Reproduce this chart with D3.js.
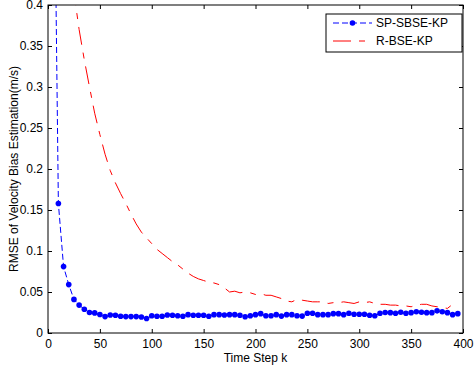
<!DOCTYPE html>
<html>
<head>
<meta charset="utf-8">
<script src="https://cdn.jsdelivr.net/npm/d3@7"></script>
<style>
  body { margin: 0; background: #fff; }
  svg { display: block; font-family: "Liberation Sans", Arial, sans-serif; }
</style>
</head>
<body>
<svg id="chart" width="474" height="366"></svg>
<script>
// time steps (every 5th step is plotted)
var steps = [5, 10, 15, 20, 25, 30, 35, 40, 45, 50, 55, 60, 65, 70, 75, 80, 85, 90, 95, 100,
  105, 110, 115, 120, 125, 130, 135, 140, 145, 150, 155, 160, 165, 170, 175, 180, 185, 190, 195, 200,
  205, 210, 215, 220, 225, 230, 235, 240, 245, 250, 255, 260, 265, 270, 275, 280, 285, 290, 295, 300,
  305, 310, 315, 320, 325, 330, 335, 340, 345, 350, 355, 360, 365, 370, 375, 380, 385, 390, 395];

// SP-SBSE-KP
var spsbse = [0.70, 0.158, 0.081, 0.059, 0.041, 0.034, 0.029, 0.025, 0.0245, 0.0225,
  0.020, 0.022, 0.0216, 0.0204, 0.020, 0.020, 0.020, 0.0196, 0.0176, 0.021,
  0.0204, 0.0204, 0.022, 0.0216, 0.021, 0.0204, 0.0224, 0.0216, 0.0216, 0.0216,
  0.0204, 0.0224, 0.0224, 0.022, 0.0224, 0.0224, 0.0216, 0.0198, 0.021, 0.0224,
  0.0236, 0.021, 0.021, 0.0224, 0.0206, 0.0224, 0.0224, 0.021, 0.0206, 0.024,
  0.024, 0.0224, 0.0224, 0.0224, 0.0236, 0.0236, 0.0224, 0.024, 0.0228, 0.0228,
  0.0228, 0.0216, 0.021, 0.024, 0.025, 0.0248, 0.024, 0.0253, 0.024, 0.0248,
  0.026, 0.0253, 0.0248, 0.0248, 0.0270, 0.026, 0.0248, 0.0224, 0.0236];

// R-BSE-KP (null = not plotted)
var rbse = [null, null, null, 0.47, 0.415, 0.37, 0.333, 0.300, 0.268, 0.242,
  0.218, 0.198, 0.183, 0.170, 0.158, 0.145, 0.133, 0.123, 0.116, 0.109,
  0.102, 0.097, 0.092, 0.087, 0.083, 0.078, 0.073, 0.069, 0.066, 0.064,
  0.062, 0.061, 0.059, 0.055, 0.050, 0.051, 0.049, 0.050, 0.049, 0.047,
  0.048, 0.046, 0.046, 0.044, 0.042, 0.039, 0.038, 0.041, 0.040, 0.039,
  0.038, 0.038, 0.038, 0.036, 0.037, 0.037, 0.038, 0.037, 0.036, 0.038,
  0.037, 0.038, 0.036, 0.035, 0.035, 0.034, 0.034, 0.033, 0.033, 0.032,
  0.034, 0.035, 0.035, 0.033, 0.032, 0.031, 0.030, 0.035, 0.034];

var xTicks = [0, 50, 100, 150, 200, 250, 300, 350, 400];
var yTicks = [0, 0.05, 0.1, 0.15, 0.2, 0.25, 0.3, 0.35, 0.4];
var seriesNames = ["SP-SBSE-KP", "R-BSE-KP"];

var svg = d3.select("#chart");
var plotL = 48, plotR = 463, plotT = 5, plotB = 333;

var x = d3.scaleLinear().domain([0, 400]).range([plotL, plotR]);
var y = d3.scaleLinear().domain([0, 0.4]).range([plotB, plotT]);

svg.append("defs").append("clipPath").attr("id", "plotClip")
  .append("rect")
  .attr("x", plotL).attr("y", plotT)
  .attr("width", plotR - plotL).attr("height", plotB - plotT);

// axes, MATLAB style: ticks inward on all four sides
function styleAxis(g) {
  g.select(".domain").remove();
  g.selectAll("line").attr("stroke", "#000");
  g.selectAll("text").attr("font-size", "12px").attr("fill", "#000");
}

svg.append("g")
  .attr("transform", "translate(0," + plotB + ")")
  .call(d3.axisBottom(x).tickValues(xTicks).tickSize(-4).tickPadding(6).tickFormat(d3.format("d")))
  .call(styleAxis);

svg.append("g")
  .attr("transform", "translate(0," + plotT + ")")
  .call(d3.axisTop(x).tickValues(xTicks).tickSize(-4).tickFormat(""))
  .call(styleAxis);

svg.append("g")
  .attr("transform", "translate(" + plotL + ",0)")
  .call(d3.axisLeft(y).tickValues(yTicks).tickSize(-4).tickPadding(5)
    .tickFormat(function(d) { return d === 0 ? "0" : String(+d.toFixed(2)); }))
  .call(styleAxis);

svg.append("g")
  .attr("transform", "translate(" + plotR + ",0)")
  .call(d3.axisRight(y).tickValues(yTicks).tickSize(-4).tickFormat(""))
  .call(styleAxis);

// series
var plot = svg.append("g").attr("clip-path", "url(#plotClip)");

var redLine = d3.line()
  .defined(function(d, i) { return rbse[i] !== null; })
  .x(function(d, i) { return x(steps[i]); })
  .y(function(d, i) { return y(rbse[i]); });

plot.append("path")
  .attr("d", redLine(steps))
  .attr("fill", "none")
  .attr("stroke", "#ff0000")
  .attr("stroke-width", 1)
  .attr("stroke-dasharray", "18,8,6,8");

var blueLine = d3.line()
  .x(function(d, i) { return x(steps[i]); })
  .y(function(d, i) { return y(spsbse[i]); });

plot.append("path")
  .attr("d", blueLine(steps))
  .attr("fill", "none")
  .attr("stroke", "#0000ff")
  .attr("stroke-width", 1)
  .attr("stroke-dasharray", "6,3");

plot.selectAll(".dot")
  .data(steps)
  .enter().append("circle")
  .attr("class", "dot")
  .attr("cx", function(d) { return x(d); })
  .attr("cy", function(d, i) { return y(spsbse[i]); })
  .attr("r", 2.8)
  .attr("fill", "#0000ff");

// frame
svg.append("rect")
  .attr("x", plotL).attr("y", plotT)
  .attr("width", plotR - plotL).attr("height", plotB - plotT)
  .attr("fill", "none").attr("stroke", "#000").attr("stroke-width", 1);

// axis labels
svg.append("text")
  .attr("x", (plotL + plotR) / 2).attr("y", 362)
  .attr("text-anchor", "middle").attr("font-size", "12px")
  .text("Time Step k");

svg.append("text")
  .attr("transform", "translate(18," + ((plotT + plotB) / 2) + ") rotate(-90)")
  .attr("text-anchor", "middle").attr("font-size", "12px")
  .text("RMSE of Velocity Bias Estimation(m/s)");

// legend
var lg = svg.append("g");
lg.append("rect")
  .attr("x", 326).attr("y", 14).attr("width", 136).attr("height", 38)
  .attr("fill", "#fff").attr("stroke", "#000").attr("stroke-width", 1);

lg.append("line")
  .attr("x1", 333).attr("x2", 372).attr("y1", 23).attr("y2", 23)
  .attr("stroke", "#0000ff").attr("stroke-dasharray", "6,3");
lg.append("circle").attr("cx", 352.5).attr("cy", 23).attr("r", 2.8).attr("fill", "#0000ff");

lg.append("line")
  .attr("x1", 333).attr("x2", 372).attr("y1", 41).attr("y2", 41)
  .attr("stroke", "#ff0000").attr("stroke-dasharray", "18,8,6,8");

lg.selectAll(".lgtext")
  .data(seriesNames)
  .enter().append("text")
  .attr("class", "lgtext")
  .attr("x", 376)
  .attr("y", function(d, i) { return 27 + i * 18; })
  .attr("font-size", "12px")
  .text(function(d) { return d; });
</script>
</body>
</html>
